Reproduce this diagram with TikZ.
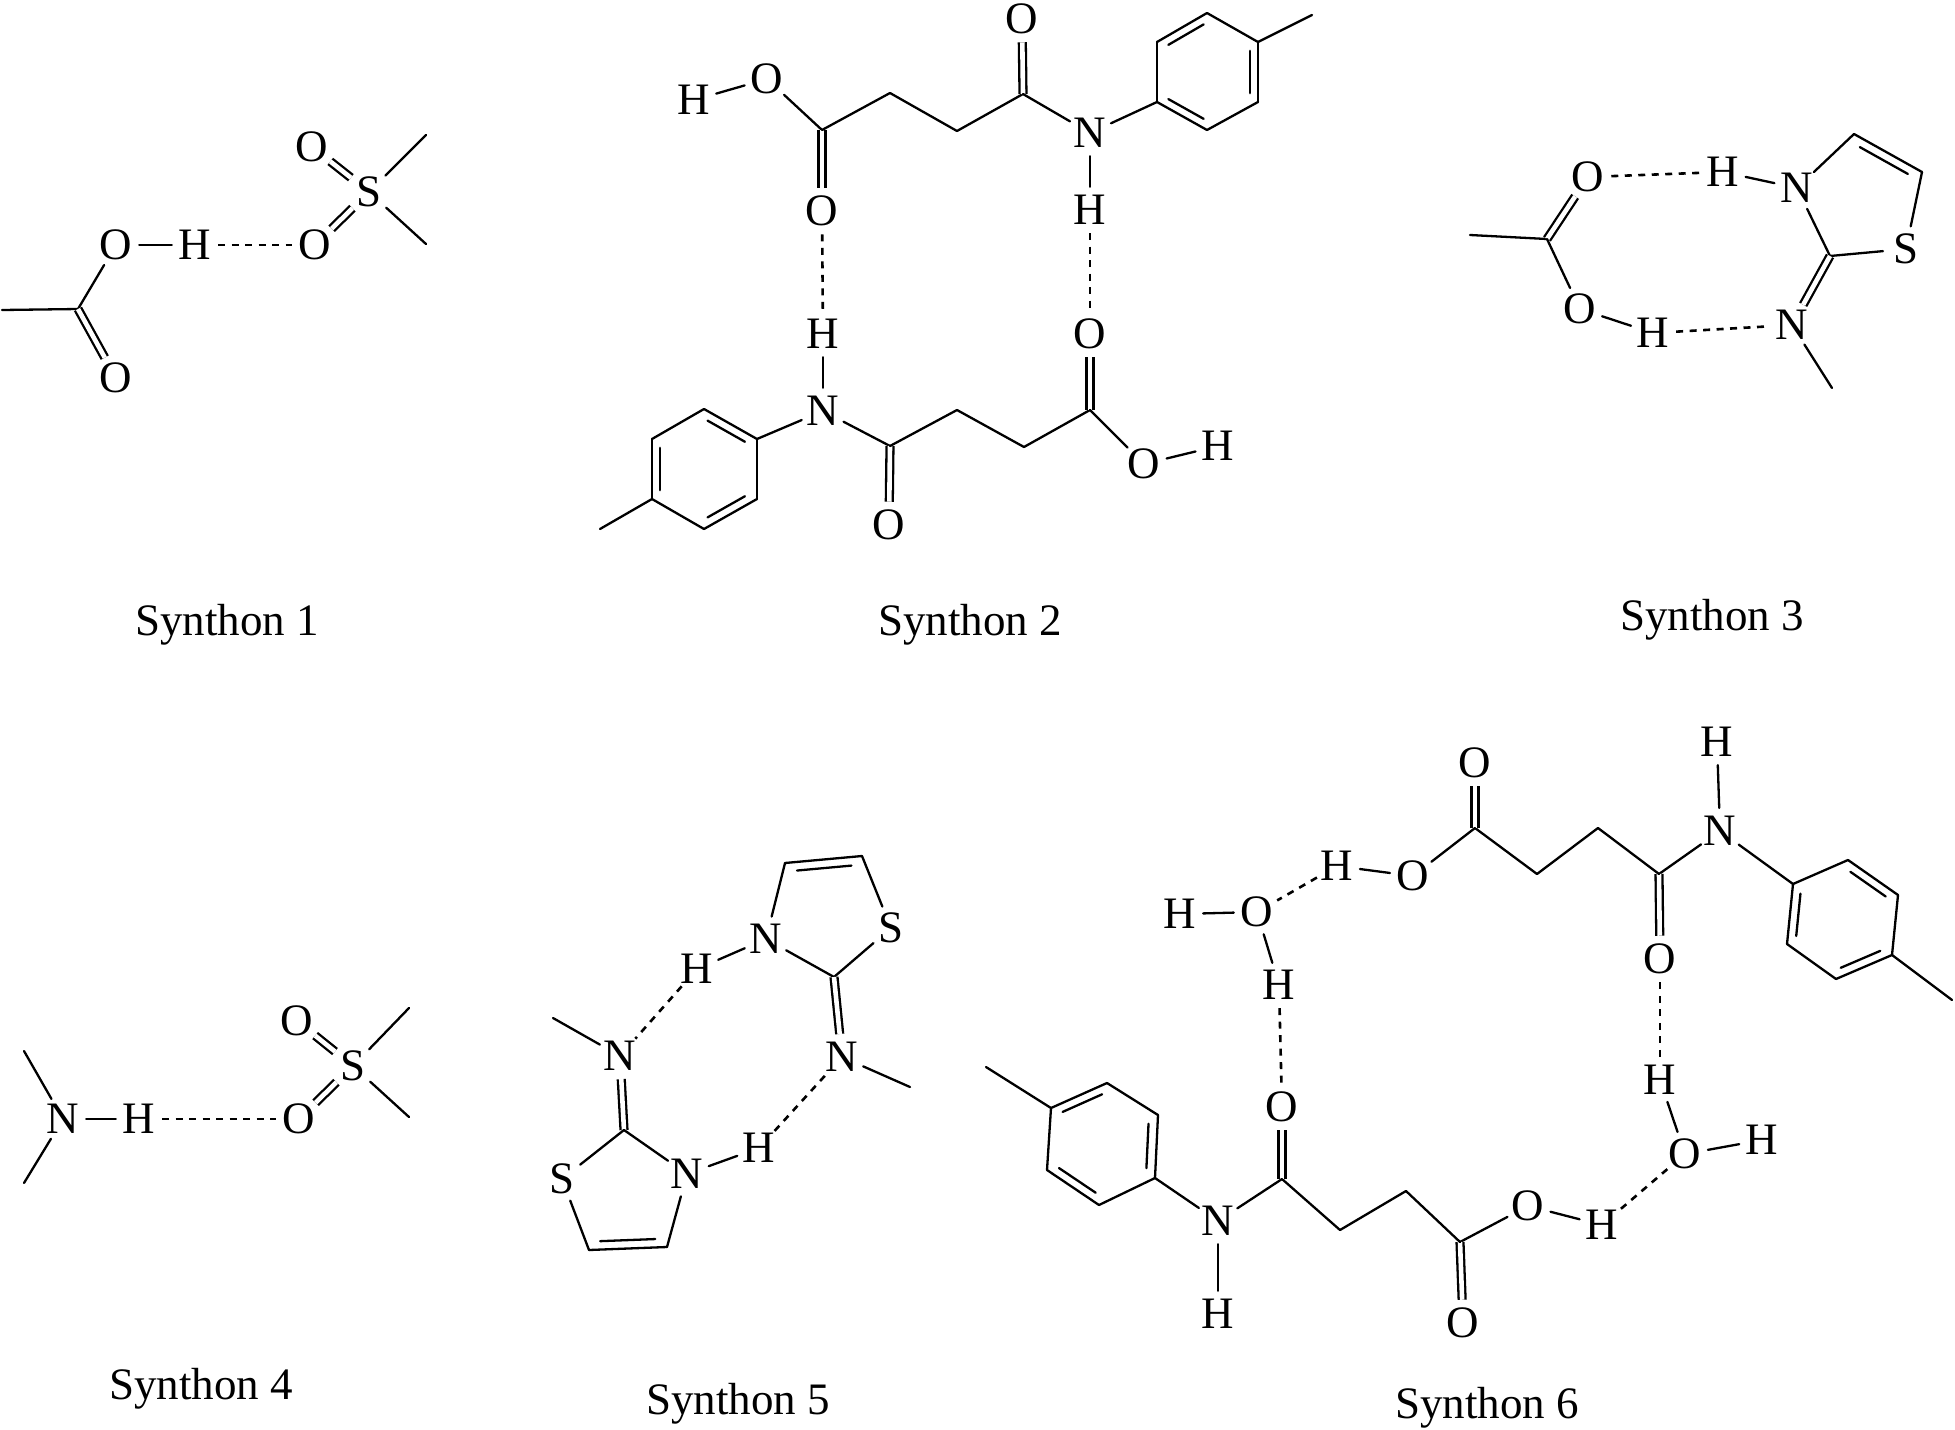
\documentclass[tikz,border=0pt]{standalone}
\usepackage{fontspec}
\setmainfont{Liberation Serif}
\usetikzlibrary{calc}

\tikzset{
  atomfont/.style={font=\fontsize{45}{54}\selectfont},
  dbl/.style={double, double distance=4.6pt, line cap=butt},
  hbond/.style={dash pattern=on 7pt off 6.5pt, line cap=butt, line width=2.6pt}
}
% inner line of a ring double bond: ends, ring centre
\newcommand{\inbond}[3]{\path ($(#1)!.08!(#2)!.16!(#3)$) edge ($(#2)!.08!(#1)!.16!(#3)$);}

\begin{document}
\begin{tikzpicture}[x=1pt, y=-1pt]
        \useasboundingbox (0,0) rectangle (1955,1430);
        \begin{scope}[every node/.style={atomfont, circle, inner sep=0pt, minimum size=44pt},
                      every path/.style={line width=2.3pt, line cap=round}]
                % Synthon 1
                \node (O1a) at (116,245) {O};
                \node (H1a) at (195,245) {H};
                \node (O1b) at (315,245) {O};
                \node (S1) at (369,192) {S};
                \node (O1c) at (312,147) {O};
                \node (O1d) at (116,378) {O};
                \coordinate (C1) at (78,309);
                \coordinate (Me1a) at (2,310);
                \coordinate (Me1b) at (426,135);
                \coordinate (Me1c) at (426,244);
                \path (Me1a) edge (C1);
                \path (C1) edge (O1a);
                \path (C1) edge [dbl] (O1d);
                \path (O1a) edge (H1a);
                \path (H1a) edge [hbond] (O1b);
                \path (O1b) edge [dbl] (S1);
                \path (O1c) edge [dbl] (S1);
                \path (S1) edge (Me1b);
                \path (S1) edge (Me1c);

                % Synthon 2
                \node (H2a) at (694,100) {H};
                \node (O2a) at (767,79) {O};
                \node (O2b) at (822,211) {O};
                \node (O2c) at (1022,19) {O};
                \node (N2a) at (1090,133) {N};
                \node (H2b) at (1090,210) {H};
                \node (H2c) at (823,334) {H};
                \node (O2d) at (1090,334) {O};
                \node (N2b) at (823,411) {N};
                \node (O2e) at (889,525) {O};
                \node (O2f) at (1144,464) {O};
                \node (H2d) at (1218,446) {H};
                \coordinate (C2a) at (822,130);
                \coordinate (C2b) at (890,93);
                \coordinate (C2c) at (957,131);
                \coordinate (C2d) at (1023,94);
                \coordinate (R2a) at (1157,102);
                \coordinate (R2b) at (1157,42);
                \coordinate (R2c) at (1207,13);
                \coordinate (R2d) at (1258,42);
                \coordinate (R2e) at (1258,102);
                \coordinate (R2f) at (1207,130);
                \coordinate (Ctr2a) at (1207,72);
                \coordinate (Me2a) at (1312,15);
                \coordinate (C2e) at (890,446);
                \coordinate (C2f) at (957,410);
                \coordinate (C2g) at (1024,447);
                \coordinate (C2h) at (1090,410);
                \coordinate (R2g) at (757,439);
                \coordinate (R2h) at (704,409);
                \coordinate (R2i) at (652,439);
                \coordinate (R2j) at (652,499);
                \coordinate (R2k) at (704,529);
                \coordinate (R2l) at (757,499);
                \coordinate (Ctr2b) at (704,469);
                \coordinate (Me2b) at (600,529);
                \path (H2a) edge (O2a);
                \path (O2a) edge (C2a);
                \path (C2a) edge [dbl] (O2b);
                \path (C2a) edge (C2b);
                \path (C2b) edge (C2c);
                \path (C2c) edge (C2d);
                \path (C2d) edge [dbl] (O2c);
                \path (C2d) edge (N2a);
                \path (N2a) edge (H2b);
                \path (N2a) edge (R2a);
                \path (R2a) edge (R2b);
                \path (R2b) edge (R2c);
                \path (R2c) edge (R2d);
                \path (R2d) edge (R2e);
                \path (R2e) edge (R2f);
                \path (R2f) edge (R2a);
                \path (R2d) edge (Me2a);
                \inbond{R2b}{R2c}{Ctr2a}
                \inbond{R2d}{R2e}{Ctr2a}
                \inbond{R2f}{R2a}{Ctr2a}
                \path (O2b) edge [hbond] (H2c);
                \path (H2b) edge [hbond] (O2d);
                \path (H2c) edge (N2b);
                \path (N2b) edge (R2g);
                \path (N2b) edge (C2e);
                \path (R2g) edge (R2h);
                \path (R2h) edge (R2i);
                \path (R2i) edge (R2j);
                \path (R2j) edge (R2k);
                \path (R2k) edge (R2l);
                \path (R2l) edge (R2g);
                \path (R2j) edge (Me2b);
                \inbond{R2g}{R2h}{Ctr2b}
                \inbond{R2i}{R2j}{Ctr2b}
                \inbond{R2k}{R2l}{Ctr2b}
                \path (C2e) edge [dbl] (O2e);
                \path (C2e) edge (C2f);
                \path (C2f) edge (C2g);
                \path (C2g) edge (C2h);
                \path (C2h) edge [dbl] (O2d);
                \path (C2h) edge (O2f);
                \path (O2f) edge (H2d);

                % Synthon 3
                \node (O3a) at (1588,177) {O};
                \node (O3b) at (1580,309) {O};
                \node (H3a) at (1723,172) {H};
                \node (N3a) at (1797,188) {N};
                \node (S3) at (1906,249) {S};
                \node (N3b) at (1792,325) {N};
                \node (H3b) at (1653,333) {H};
                \coordinate (C3a) at (1547,239);
                \coordinate (Me3a) at (1470,235);
                \coordinate (R3a) at (1854,134);
                \coordinate (R3b) at (1922,172);
                \coordinate (C3b) at (1830,256);
                \coordinate (Ctr3) at (1862,200);
                \coordinate (Me3b) at (1832,388);
                \path (Me3a) edge (C3a);
                \path (C3a) edge [dbl] (O3a);
                \path (C3a) edge (O3b);
                \path (O3a) edge [hbond] (H3a);
                \path (H3a) edge (N3a);
                \path (N3a) edge (R3a);
                \path (R3a) edge (R3b);
                \path (R3b) edge (S3);
                \path (S3) edge (C3b);
                \path (C3b) edge (N3a);
                \inbond{R3a}{R3b}{Ctr3}
                \path (C3b) edge [dbl] (N3b);
                \path (N3b) edge (Me3b);
                \path (O3b) edge (H3b);
                \path (H3b) edge [hbond] (N3b);

                % Synthon 4
                \node (N4) at (63,1119) {N};
                \node (H4) at (139,1119) {H};
                \node (O4a) at (299,1119) {O};
                \node (S4) at (353,1066) {S};
                \node (O4b) at (297,1021) {O};
                \coordinate (Me4a) at (24,1051);
                \coordinate (Me4b) at (24,1183);
                \coordinate (Me4c) at (409,1008);
                \coordinate (Me4d) at (409,1117);
                \path (Me4a) edge (N4);
                \path (Me4b) edge (N4);
                \path (N4) edge (H4);
                \path (H4) edge [hbond] (O4a);
                \path (O4a) edge [dbl] (S4);
                \path (O4b) edge [dbl] (S4);
                \path (S4) edge (Me4c);
                \path (S4) edge (Me4d);

                % Synthon 5
                \node (S5a) at (891,928) {S};
                \node (N5a) at (766,939) {N};
                \node (H5a) at (697,969) {H};
                \node (N5b) at (842,1057) {N};
                \node (N5c) at (620,1056) {N};
                \node (S5b) at (562,1179) {S};
                \node (N5d) at (687,1174) {N};
                \node (H5b) at (759,1148) {H};
                \coordinate (R5a) at (785,863);
                \coordinate (R5b) at (862,856);
                \coordinate (C5a) at (834,977);
                \coordinate (Ctr5a) at (828,913);
                \coordinate (Me5a) at (910,1087);
                \coordinate (Me5b) at (553,1018);
                \coordinate (C5b) at (624,1130);
                \coordinate (R5c) at (667,1247);
                \coordinate (R5d) at (589,1250);
                \coordinate (Ctr5b) at (626,1196);
                \path (N5a) edge (R5a);
                \path (R5a) edge (R5b);
                \path (R5b) edge (S5a);
                \path (S5a) edge (C5a);
                \path (C5a) edge (N5a);
                \inbond{R5a}{R5b}{Ctr5a}
                \path (C5a) edge [dbl] (N5b);
                \path (N5b) edge (Me5a);
                \path (N5a) edge (H5a);
                \path (H5a) edge [hbond] (N5c);
                \path (Me5b) edge (N5c);
                \path (N5c) edge [dbl] (C5b);
                \path (C5b) edge (S5b);
                \path (C5b) edge (N5d);
                \path (N5d) edge (R5c);
                \path (R5c) edge (R5d);
                \path (R5d) edge (S5b);
                \inbond{R5c}{R5d}{Ctr5b}
                \path (N5d) edge (H5b);
                \path (H5b) edge [hbond] (N5b);

                % Synthon 6
                \node (H6a) at (1717,742) {H};
                \node (N6a) at (1720,831) {N};
                \node (O6a) at (1475,763) {O};
                \node (O6b) at (1660,959) {O};
                \node (O6c) at (1413,876) {O};
                \node (H6b) at (1337,866) {H};
                \node (O6d) at (1257,912) {O};
                \node (H6c) at (1180,914) {H};
                \node (H6d) at (1279,985) {H};
                \node (O6e) at (1282,1107) {O};
                \node (N6b) at (1218,1221) {N};
                \node (H6e) at (1218,1314) {H};
                \node (O6f) at (1463,1323) {O};
                \node (O6g) at (1528,1206) {O};
                \node (H6f) at (1602,1225) {H};
                \node (O6h) at (1685,1154) {O};
                \node (H6g) at (1762,1140) {H};
                \node (H6h) at (1660,1080) {H};
                \coordinate (C6a) at (1475,828);
                \coordinate (C6b) at (1537,874);
                \coordinate (C6c) at (1598,828);
                \coordinate (C6d) at (1659,874);
                \coordinate (R6a) at (1793,884);
                \coordinate (R6b) at (1848,860);
                \coordinate (R6c) at (1898,895);
                \coordinate (R6d) at (1892,955);
                \coordinate (R6e) at (1836,979);
                \coordinate (R6f) at (1787,944);
                \coordinate (Ctr6a) at (1842,919);
                \coordinate (Me6a) at (1952,1000);
                \coordinate (C6e) at (1282,1179);
                \coordinate (C6f) at (1340,1230);
                \coordinate (C6g) at (1406,1191);
                \coordinate (C6h) at (1460,1242);
                \coordinate (R6g) at (1155,1178);
                \coordinate (R6h) at (1099,1205);
                \coordinate (R6i) at (1047,1170);
                \coordinate (R6j) at (1051,1108);
                \coordinate (R6k) at (1107,1083);
                \coordinate (R6l) at (1158,1115);
                \coordinate (Ctr6b) at (1100,1143);
                \coordinate (Me6b) at (986,1067);
                \path (H6a) edge (N6a);
                \path (N6a) edge (C6d);
                \path (N6a) edge (R6a);
                \path (C6d) edge [dbl] (O6b);
                \path (C6d) edge (C6c);
                \path (C6c) edge (C6b);
                \path (C6b) edge (C6a);
                \path (C6a) edge [dbl] (O6a);
                \path (C6a) edge (O6c);
                \path (O6c) edge (H6b);
                \path (H6b) edge [hbond] (O6d);
                \path (H6c) edge (O6d);
                \path (O6d) edge (H6d);
                \path (H6d) edge [hbond] (O6e);
                \path (R6a) edge (R6b);
                \path (R6b) edge (R6c);
                \path (R6c) edge (R6d);
                \path (R6d) edge (R6e);
                \path (R6e) edge (R6f);
                \path (R6f) edge (R6a);
                \path (R6d) edge (Me6a);
                \inbond{R6a}{R6f}{Ctr6a}
                \inbond{R6b}{R6c}{Ctr6a}
                \inbond{R6d}{R6e}{Ctr6a}
                \path (O6b) edge [hbond] (H6h);
                \path (H6h) edge (O6h);
                \path (O6h) edge (H6g);
                \path (O6h) edge [hbond] (H6f);
                \path (H6f) edge (O6g);
                \path (O6g) edge (C6h);
                \path (C6h) edge [dbl] (O6f);
                \path (C6h) edge (C6g);
                \path (C6g) edge (C6f);
                \path (C6f) edge (C6e);
                \path (C6e) edge [dbl] (O6e);
                \path (C6e) edge (N6b);
                \path (N6b) edge (H6e);
                \path (N6b) edge (R6g);
                \path (R6g) edge (R6h);
                \path (R6h) edge (R6i);
                \path (R6i) edge (R6j);
                \path (R6j) edge (R6k);
                \path (R6k) edge (R6l);
                \path (R6l) edge (R6g);
                \path (R6j) edge (Me6b);
                \inbond{R6j}{R6k}{Ctr6b}
                \inbond{R6l}{R6g}{Ctr6b}
                \inbond{R6h}{R6i}{Ctr6b}
        \end{scope}
        \node [atomfont] (L1) at (227,625) {Synthon 1};
        \node [atomfont] (L2) at (970,625) {Synthon 2};
        \node [atomfont] (L3) at (1712,620) {Synthon 3};
        \node [atomfont] (L4) at (201,1389) {Synthon 4};
        \node [atomfont] (L5) at (738,1404) {Synthon 5};
        \node [atomfont] (L6) at (1487,1408) {Synthon 6};
\end{tikzpicture}
\end{document}
